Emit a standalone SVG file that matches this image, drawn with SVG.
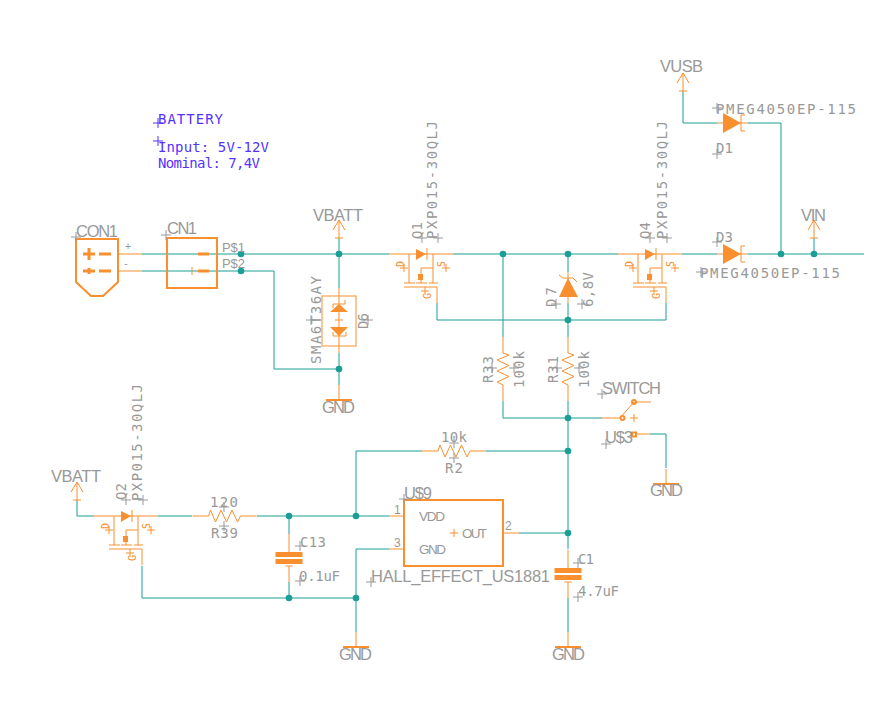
<svg xmlns="http://www.w3.org/2000/svg" width="892" height="718" viewBox="0 0 892 718">
<style>
text{fill:#999;font-family:"DejaVu Sans Mono","Liberation Mono",monospace;font-size:14px}
.s{font-family:"Liberation Sans",Arial,sans-serif;font-size:16.5px}
.m{font-size:13.5px}
.b{fill:#5533ff;font-size:14px}
.p{font-size:10px}
.t{fill:#f98f2e;font-size:10px}
.o{fill:none;stroke:#f98f2e;stroke-width:1}
.o2{fill:none;stroke:#f98f2e;stroke-width:2}
.f{fill:#f98f2e;stroke:none}
.x{fill:none;stroke:#999;stroke-width:1}
.w{fill:none;stroke:#1a9e96;stroke-width:1}
.j{fill:#1a9e96}
</style>
<defs>
<path id="x" class="x" d="M-5,0H5M0,-5V5"/>
<path id="xo" class="o" d="M-4,0H4M0,-4V4"/>
<circle id="j" class="j" r="3.3"/>
<g id="pmos">
<path class="o" d="M-32,0H32M-12,0V29M12,0V29M-17,29H-6M-5,29H6M8,29H17M-17,33H16V49M0,14V29M0,14H12"/>
<path class="f" d="M-5,-5V6L5,0ZM-3,20h5v6h-5z"/>
<path class="o" d="M6,-6V6"/>
</g>
<path id="res" class="o" d="M-32,0H-16L-14,-6L-9,6L-3.500,-6L2,6L7.500,-6L13,6L16,0H32"/>
<g id="cap">
<path class="o" d="M0,-24V-6M0,8V24M-3.500,8H3.500"/>
<path class="f" d="M-13.500,-6h27v5h-27zM-13.500,1h27v5h-27z"/>
</g>
<g id="dio">
<path class="o" d="M-31,0H0M18,0H31M19,-8V8M19,-8H23M19,8H23M19,0H25"/>
<path class="f" d="M-24,-10V10L18,0Z" transform="translate(6,0) scale(.43,1) translate(6,0) scale(1,1)"/>
</g>
<g id="sup"><path class="o" d="M0,0V-18M-6,-8L0,-18L6,-8M-4,0H4"/></g>
<g id="gnd"><path class="o" d="M0,0V-15"/><path class="o2" d="M-13,0H13"/></g>
</defs>

<g id="connectors">
<path class="w" d="M142,254H389M453,254H618M682,254H717M748,254H864M142,271H274V369H339M339,238V288M339,353V385M437,303V320H666V303M503,254V337M503,401V418H602M568,254V272M568,303V337M568,401V549M568,598V632M77,500V516H94M158,516H192M257,516H389M289,516V534M289,582V598M142,566V598H356M356,451V516M356,549H389M356,549V632M356,451H422M486,451H568M519,533H568M683,91V123H717M748,123H781V254M814,238V254M650,434H666V468"/>
<use href="#j" x="241" y="254"/><use href="#j" x="241" y="271"/><use href="#j" x="339" y="254"/><use href="#j" x="339" y="369"/><use href="#j" x="503" y="254"/><use href="#j" x="568" y="254"/><use href="#j" x="568" y="320"/><use href="#j" x="568" y="418"/><use href="#j" x="568" y="451"/><use href="#j" x="568" y="533"/><use href="#j" x="781" y="254"/><use href="#j" x="814" y="254"/><use href="#j" x="289" y="516"/><use href="#j" x="289" y="598"/><use href="#j" x="356" y="516"/><use href="#j" x="356" y="598"/>
</g>

<g id="notes">
<text class="b" x="158" y="124" textLength="65">BATTERY</text>
<text class="b" x="158" y="152" textLength="111">Input: 5V-12V</text>
<text class="b" x="158" y="168" textLength="102">Nominal: 7,4V</text>
<path d="M153,123H163M158,118V128M153,141H163M158,136V146" fill="none" stroke="#5533ff"/>
</g>

<g id="CON1">
<path class="o2" d="M76,239H118V282L103,296H91L76,282Z"/>
<path class="o" d="M118,254H142M118,271H142"/>
<path d="M83,254H95M89,248V260M83,271H95M99,254H111M99,271H111M89,268V274" fill="none" stroke="#f98f2e" stroke-width="3" />
<text class="s" x="76" y="237" textLength="42">CON1</text>
<text class="p" x="125" y="250">+</text><text class="p" x="123" y="267">-</text>
<use href="#x" x="76" y="237"/>
</g>

<g id="CN1">
<rect class="o2" x="167" y="238" width="50" height="50" stroke-width="2"/>
<path d="M198,254H209M198,271H209" fill="none" stroke="#f98f2e" stroke-width="3"/>
<path class="o" d="M192,267V275"/>
<text class="s" x="167" y="234" textLength="30">CN1</text>
<text class="s" style="font-size:13px" x="222" y="252" textLength="23">P$1</text>
<text class="s" style="font-size:13px" x="222" y="268" textLength="23">P$2</text>
<use href="#x" x="166" y="235"/>
</g>

<g id="VBATT_1"><use href="#sup" x="339" y="238"/><text class="s" x="313" y="221" textLength="50">VBATT</text></g>

<g id="D6">
<rect class="o" x="322" y="296" width="34" height="50"/>
<path class="o" d="M339,288V353M335,320H343M333,304H345M333,336H346M333,332V336M346,336V332M333,304V308M345,304V300"/>
<path class="f" d="M339,304L330,312H348ZM330,327H348L339,336Z"/>
<text transform="translate(321,364) rotate(-90)" textLength="88">SMA6T36AY</text>
<text transform="translate(368,329) rotate(-90)" textLength="16">D6</text>
<use href="#x" x="311" y="320"/><use href="#x" x="368" y="320"/>
</g>
<g id="GND_1"><use href="#gnd" x="339" y="400"/><text class="s" x="322" y="413" textLength="33">GND</text></g>

<g id="Q1" transform="translate(421,254)">
<use href="#pmos"/>
<text class="t" transform="translate(-17,13) rotate(-90)">D</text>
<text class="t" transform="translate(24,13) rotate(-90)">S</text>
<text class="t" transform="translate(10,45) rotate(-90)">G</text>
<use href="#xo" x="-17" y="14"/><use href="#xo" x="25" y="14"/><use href="#xo" x="4" y="37"/>
<text transform="translate(1,-15) rotate(-90)" textLength="17">Q1</text>
<text transform="translate(16,-15) rotate(-90)" textLength="118">PXP015-30QLJ</text>
<use href="#x" x="1" y="-16"/><use href="#x" x="17" y="-16"/>
</g>

<g id="Q4" transform="translate(650,254)">
<use href="#pmos"/>
<text class="t" transform="translate(-17,13) rotate(-90)">D</text>
<text class="t" transform="translate(24,13) rotate(-90)">S</text>
<text class="t" transform="translate(10,45) rotate(-90)">G</text>
<use href="#xo" x="-17" y="14"/><use href="#xo" x="25" y="14"/><use href="#xo" x="4" y="37"/>
<text transform="translate(0,-15) rotate(-90)" textLength="17">Q4</text>
<text transform="translate(17,-15) rotate(-90)" textLength="118">PXP015-30QLJ</text>
<use href="#x" x="0" y="-16"/><use href="#x" x="17" y="-16"/>
</g>

<g id="Q2" transform="translate(126,516)">
<use href="#pmos"/>
<text class="t" transform="translate(-17,13) rotate(-90)">D</text>
<text class="t" transform="translate(24,13) rotate(-90)">S</text>
<text class="t" transform="translate(10,45) rotate(-90)">G</text>
<use href="#xo" x="-17" y="14"/><use href="#xo" x="25" y="14"/><use href="#xo" x="4" y="37"/>
<text transform="translate(0,-16) rotate(-90)" textLength="17">Q2</text>
<text transform="translate(16,-15) rotate(-90)" textLength="117">PXP015-30QLJ</text>
<use href="#x" x="0" y="-16"/><use href="#x" x="17" y="-16"/>
</g>

<g id="D7">
<path class="o" d="M568,272V303M559,275L563,278H573L577,282"/>
<path class="f" d="M568,278L559,297H578Z"/>
<text transform="translate(556,307) rotate(-90)" textLength="20">D7</text>
<text transform="translate(593,307) rotate(-90)" textLength="35">6,8V</text>
<use href="#x" x="556" y="304"/><use href="#x" x="582" y="304"/>
</g>

<g id="R33">
<use href="#res" transform="translate(503,369) rotate(90)"/>
<text transform="translate(493,383) rotate(-90)" textLength="27">R33</text>
<text transform="translate(524,388) rotate(-90)" textLength="37">100k</text>
<use href="#x" x="492" y="368"/><use href="#x" x="514" y="368"/>
</g>
<g id="R31">
<use href="#res" transform="translate(568,369) rotate(90)"/>
<text transform="translate(558,383) rotate(-90)" textLength="27">R31</text>
<text transform="translate(589,388) rotate(-90)" textLength="37">100k</text>
<use href="#x" x="557" y="368"/><use href="#x" x="579" y="368"/>
</g>

<g id="SWITCH">
<path class="o" d="M602,418H620L634,402H651"/>
<circle class="o2" cx="622.500" cy="418" r="2"/><circle class="o2" cx="634" cy="402" r="2"/>
<use href="#xo" x="634" y="418"/>
<rect class="o2" x="632" y="432.500" width="4" height="4"/>
<path class="o" d="M636,434H650"/>
<text class="s" x="602" y="394" textLength="59">SWITCH</text>
<text class="s" x="605" y="443" textLength="28">U$3</text>
<use href="#x" x="602" y="394"/><use href="#x" x="606" y="444"/>
</g>
<g id="GND_2"><use href="#gnd" x="666" y="484"/><text class="s" x="650" y="496" textLength="33">GND</text></g>

<g id="R2">
<use href="#res" transform="translate(454,451)"/>
<text x="441" y="442" textLength="26">10k</text><text x="445" y="473" textLength="18">R2</text>
<use href="#x" x="454" y="443"/><use href="#x" x="454" y="458"/>
</g>
<g id="R39">
<use href="#res" transform="translate(224.500,516)"/>
<text x="210" y="507" textLength="28">120</text><text x="211" y="538" textLength="27">R39</text>
<use href="#x" x="224" y="507"/><use href="#x" x="224" y="526"/>
</g>
<g id="VBATT_2"><use href="#sup" x="77" y="500"/><text class="s" x="51" y="482" textLength="50">VBATT</text></g>

<g id="C13">
<use href="#cap" x="289" y="558"/>
<text x="300" y="547" textLength="26">C13</text><text x="299" y="581" textLength="41">0.1uF</text>
<use href="#x" x="300" y="546"/><use href="#x" x="300" y="581"/>
</g>
<g id="C1">
<use href="#cap" x="568" y="574"/>
<text x="578" y="564" textLength="16">C1</text><text x="578" y="596" textLength="41">4.7uF</text>
<use href="#x" x="578" y="563"/><use href="#x" x="578" y="597"/>
</g>
<g id="GND_3"><use href="#gnd" x="356" y="647"/><text class="s" x="339" y="660" textLength="33">GND</text></g>
<g id="GND_4"><use href="#gnd" x="568" y="647"/><text class="s" x="552" y="660" textLength="33">GND</text></g>

<g id="U9">
<rect class="o2" x="404" y="500" width="99" height="66"/>
<path class="o" d="M389,516H404M389,549H404M503,533H519"/>
<use href="#xo" x="454" y="533"/>
<text class="m s" style="font-size:13.500px" x="419" y="521" textLength="26">VDD</text>
<text class="m s" style="font-size:13.500px" x="419" y="554" textLength="27">GND</text>
<text class="m s" style="font-size:13.500px" x="462" y="538" textLength="25">OUT</text>
<text class="s" style="font-size:12px" x="394" y="514">1</text>
<text class="s" style="font-size:12px" x="394" y="547">3</text>
<text class="s" style="font-size:12px" x="505" y="530">2</text>
<text class="s" x="404" y="499" textLength="28">U$9</text>
<text class="s" x="371" y="582" textLength="179">HALL_EFFECT_US1881</text>
<use href="#x" x="404" y="499"/><use href="#x" x="371" y="582"/>
</g>

<g id="VUSB"><use href="#sup" x="683" y="91"/><text class="s" x="660" y="72" textLength="43">VUSB</text></g>
<g id="VIN"><use href="#sup" x="814" y="238"/><text class="s" x="801" y="221" textLength="25">VIN</text></g>

<g id="D1">
<path class="o" d="M717,123H748M741,115V131M741,115H745M741,131H745"/>
<path class="f" d="M723,113V133L741,123Z"/>
<text x="716" y="114" textLength="140">PMEG4050EP-115</text>
<text x="716" y="153" textLength="17">D1</text>
<use href="#x" x="717" y="108"/><use href="#x" x="717" y="154"/>
</g>
<g id="D3">
<path class="o" d="M717,254H748M741,246V262M741,246H745M741,262H745"/>
<path class="f" d="M723,244V264L741,254Z"/>
<text x="716" y="242" textLength="17">D3</text>
<text x="700" y="278" textLength="140">PMEG4050EP-115</text>
<use href="#x" x="717" y="242"/><use href="#x" x="701" y="272"/>
</g>
<g id="VIN_label"/>
</svg>
